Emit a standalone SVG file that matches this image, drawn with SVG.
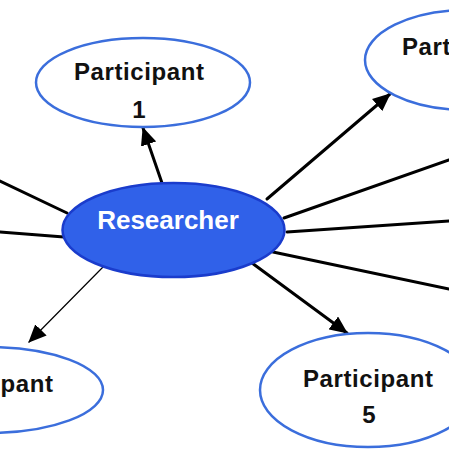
<svg xmlns="http://www.w3.org/2000/svg" width="449" height="449" viewBox="0 0 449 449">
<style>
.part ellipse{fill:#fff;stroke:#3b6edc;stroke-width:2.5}
.pt{font-family:"Liberation Sans",Arial,sans-serif;font-weight:bold;font-size:24px;fill:#111;text-anchor:middle}
.c line{stroke:#000;stroke-width:3;stroke-linecap:round}
</style>
<defs>
<marker id="ah" markerUnits="userSpaceOnUse" markerWidth="18" markerHeight="16" viewBox="0 0 18 16" refX="17" refY="8" orient="auto">
<path d="M0,0 L18,8 L0,16 Z" fill="#000"/>
</marker>
</defs>
<rect width="449" height="449" fill="#fff"/>
<g class="c" id="connectors">
<line x1="162" y1="183" x2="143" y2="128" marker-end="url(#ah)"/>
<line x1="267" y1="199" x2="390" y2="94" marker-end="url(#ah)"/>
<line x1="104" y1="266" x2="29" y2="342" style="stroke-width:1.2" marker-end="url(#ah)"/>
<line x1="252" y1="263" x2="347" y2="333" marker-end="url(#ah)"/>
<line x1="0" y1="181" x2="67" y2="213"/>
<line x1="0" y1="232" x2="64" y2="237"/>
<line x1="284" y1="218" x2="449" y2="160"/>
<line x1="287" y1="232" x2="449" y2="221"/>
<line x1="273" y1="252" x2="449" y2="289"/>
</g>
<g id="researcher">
<ellipse cx="173.5" cy="230" rx="111" ry="47" fill="#3061e9" stroke="#1a3ccc" stroke-width="2.5"/>
<text x="168" y="229" font-family="Liberation Sans,Arial,sans-serif" font-weight="bold" font-size="26" fill="#fff" text-anchor="middle">Researcher</text>
</g>
<g id="participant1" class="part">
<ellipse cx="143" cy="82.5" rx="107" ry="44.5"/>
<text class="pt" x="139" y="80" textLength="130">Participant</text>
<text class="pt" x="139" y="118">1</text>
</g>
<g id="participant2" class="part">
<ellipse cx="467" cy="60" rx="102" ry="50"/>
<text class="pt" x="467" y="55" textLength="130">Participant</text>
</g>
<g id="participant4" class="part">
<ellipse cx="-12" cy="390" rx="115" ry="43"/>
<text class="pt" x="-12" y="392" textLength="130">Participant</text>
</g>
<g id="participant5" class="part">
<ellipse cx="368" cy="390" rx="108" ry="57"/>
<text class="pt" x="368" y="387" textLength="130">Participant</text>
<text class="pt" x="369" y="423">5</text>
</g>
</svg>
